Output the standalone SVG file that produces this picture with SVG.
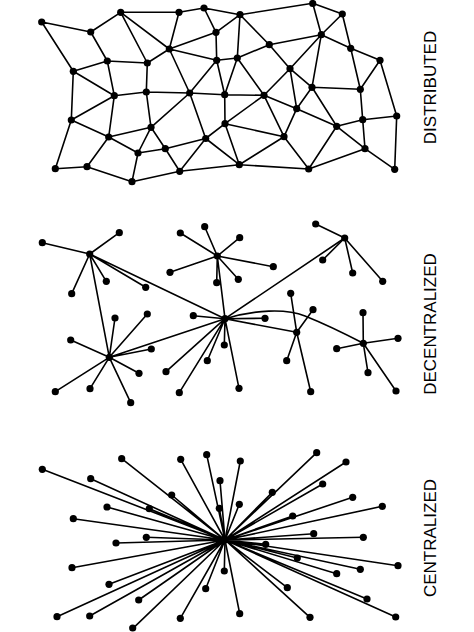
<svg xmlns="http://www.w3.org/2000/svg" width="474" height="632" viewBox="0 0 474 632">
<style>
.e{stroke:#000;stroke-width:1.6;fill:none;stroke-linecap:round}
.n{fill:#000}
.lbl{font-family:"Liberation Sans",Arial,sans-serif;font-size:17px;fill:#000;text-anchor:middle}
</style>
<defs><circle id="dot" r="3.6" class="n"/></defs>
<rect width="474" height="632" fill="#fff"/>
<g id="connectors" class="e">
<!-- distributed -->
<path d="M41.7,22L90.7,32M41.7,22L73.3,71.3M90.7,32L107.3,61M90.7,32L120.7,12.3M120.7,12.3L179,12.3M120.7,12.3L147.3,63M120.7,12.3L169.3,49M179,12.3L169.3,49M179,12.3L204,8M204,8L216,32.3M204,8L240,14.7M216,32.3L169.3,49M216,32.3L240,14.7M216,32.3L216.7,60.3M169.3,49L147.3,63M169.3,49L216.7,60.3M169.3,49L189.7,93M107.3,61L147.3,63M107.3,61L73.3,71.3M107.3,61L114.3,95.7M147.3,63L146.3,92M73.3,71.3L114.3,95.7M73.3,71.3L71.3,120M216.7,60.3L189.7,93M216.7,60.3L224.7,94.7M216.7,60.3L237.3,58M114.3,95.7L146.3,92M114.3,95.7L71.3,120M114.3,95.7L108.7,137M146.3,92L189.7,93M146.3,92L151,127.3M189.7,93L224.7,94.7M189.7,93L151,127.3M189.7,93L205.7,138.5M224.7,94.7L225,123.7M224.7,94.7L237.3,58M224.7,94.7L264,95.3M71.3,120L108.7,137M71.3,120L55.3,168.7M151,127.3L108.7,137M151,127.3L138,153M151,127.3L165.3,148.7M108.7,137L138,153M108.7,137L87,166.7M205.7,138.5L165.3,148.7M205.7,138.5L225,123.7M205.7,138.5L179.7,171.3M205.7,138.5L239.3,164.7M165.3,148.7L138,153M165.3,148.7L179.7,171.3M138,153L132,181.7M55.3,168.7L87,166.7M87,166.7L132,181.7M132,181.7L179.7,171.3M179.7,171.3L239.3,164.7"/>
<path d="M240,14.7L312.7,3.3M240,14.7L269.3,44.7M240,14.7L237.3,58M312.7,3.3L342.3,14M312.7,3.3L321.3,34.7M342.3,14L321.3,34.7M342.3,14L350.7,48.3M321.3,34.7L269.3,44.7M321.3,34.7L290,68.7M321.3,34.7L312,87.3M321.3,34.7L350.7,48.3M269.3,44.7L237.3,58M269.3,44.7L290,68.7M237.3,58L264,95.3M290,68.7L264,95.3M290,68.7L296.7,108.7M290,68.7L312,87.3M380,60.3L350.7,48.3M380,60.3L360.3,89.3M380,60.3L396.7,116M350.7,48.3L360.3,89.3M312,87.3L360.3,89.3M312,87.3L296.7,108.7M312,87.3L336.7,126.3M264,95.3L296.7,108.7M264,95.3L284,136.7M264,95.3L225,123.7M296.7,108.7L284,136.7M296.7,108.7L336.7,126.3M360.3,89.3L362.7,119.7M362.7,119.7L396.7,116M362.7,119.7L336.7,126.3M362.7,119.7L365,148.7M396.7,116L394.7,169.3M336.7,126.3L365,148.7M336.7,126.3L308.7,169M284,136.7L239.3,164.7M284,136.7L308.7,169M284,136.7L225,123.7M365,148.7L308.7,169M365,148.7L394.7,169.3M239.3,164.7L308.7,169M239.3,164.7L225,123.7"/>
<!-- decentralized -->
<path d="M89.7,254L42.3,242.7M89.7,254L119.3,232.7M89.7,254L71.7,293.7M89.7,254L106.3,281.3M89.7,254L145.7,287.3M89.7,254L225,318.7M89.7,254L109.3,357.3M109.3,357.3L225,318.7M109.3,357.3L70.7,340M109.3,357.3L115,318M109.3,357.3L147.3,314M109.3,357.3L151.3,349M109.3,357.3L139,373.3M109.3,357.3L130.7,402.7M109.3,357.3L90,388.7M109.3,357.3L55.3,391.7"/>
<path d="M217.3,256L180.3,233M217.3,256L204.7,226.7M217.3,256L170,272.3M217.3,256L216.7,282.7M217.3,256L239.7,237.7M217.3,256L273.3,266.7M217.3,256L238.3,279.3M217.3,256L225,318.7"/>
<path d="M225,318.7L193.3,315.7M225,318.7L265,318.3M225,318.7L224.3,345M225,318.7L207.3,360.7M225,318.7L166,371.7M225,318.7L179.3,392.7M225,318.7L239,388.3M225,318.7L344.7,238M225,318.7L296.7,332.3M225,318.7C255,310 285,308 305,316Q330,326 363.3,343.3"/>
<path d="M344.7,238L315.7,224M344.7,238L322.7,260M344.7,238L352.7,273M344.7,238L382.7,281.3M296.7,332.3L290.7,293.3M296.7,332.3L313,309.7M296.7,332.3L286.7,360.7M296.7,332.3L310.7,391.7M363.3,343.3L363,312.7M363.3,343.3L398,338.3M363.3,343.3L336.7,348.7M363.3,343.3L368,372.7M363.3,343.3L396,391"/>
<!-- centralized -->
<path d="M225,540L42.3,469.3M225,540L121.7,458.7M225,540L180.7,459.3M225,540L206.7,454.7M225,540L220,480.7M225,540L90.7,478.7M225,540L171.7,495M225,540L149.3,508.7M225,540L107,507M225,540L73.3,518.7M225,540L219.3,508.3M225,540L146.3,537.3M225,540L116,543M225,540L72,567.7M225,540L224.3,571M225,540L109,584.3M225,540L205.7,588.7M225,540L138.7,600M225,540L57,616.7M225,540L89.7,616M225,540L180.3,618.3M225,540L132.7,628.7"/>
<path d="M225,540L240.3,461M225,540L316.7,452.7M225,540L346,462M225,540L272.3,492.3M225,540L322.7,484M225,540L239.3,504.3M225,540L292.7,516M225,540L352.7,497.3M225,540L382.3,506.3M225,540L313.7,533.7M225,540L363.3,537.3M225,540L265.7,544.3M225,540L297.3,558M225,540L336.7,573.7M225,540L360.3,569.3M225,540L398,565.7M225,540L287.3,587.7M225,540L367,599M225,540L395.7,617M225,540L239.7,613.7M225,540L310,617.3"/>
</g>
<g id="distributed">
<g id="dA"><use href="#dot" x="41.7" y="22"/></g>
<g id="dB"><use href="#dot" x="90.7" y="32"/></g>
<g id="dC"><use href="#dot" x="120.7" y="12.3"/></g>
<g id="dD"><use href="#dot" x="179" y="12.3"/></g>
<g id="dE"><use href="#dot" x="204" y="8"/></g>
<g id="dF"><use href="#dot" x="216" y="32.3"/></g>
<g id="dG"><use href="#dot" x="169.3" y="49"/></g>
<g id="dH"><use href="#dot" x="107.3" y="61"/></g>
<g id="dI"><use href="#dot" x="147.3" y="63"/></g>
<g id="dJ"><use href="#dot" x="73.3" y="71.3"/></g>
<g id="dK"><use href="#dot" x="216.7" y="60.3"/></g>
<g id="dL"><use href="#dot" x="114.3" y="95.7"/></g>
<g id="dM"><use href="#dot" x="146.3" y="92"/></g>
<g id="dN"><use href="#dot" x="189.7" y="93"/></g>
<g id="dO"><use href="#dot" x="224.7" y="94.7"/></g>
<g id="dP"><use href="#dot" x="71.3" y="120"/></g>
<g id="dQ"><use href="#dot" x="151" y="127.3"/></g>
<g id="dR"><use href="#dot" x="225" y="123.7"/></g>
<g id="dS"><use href="#dot" x="108.7" y="137"/></g>
<g id="dT"><use href="#dot" x="205.7" y="138.5"/></g>
<g id="dU"><use href="#dot" x="165.3" y="148.7"/></g>
<g id="dV"><use href="#dot" x="138" y="153"/></g>
<g id="dW"><use href="#dot" x="55.3" y="168.7"/></g>
<g id="dX"><use href="#dot" x="87" y="166.7"/></g>
<g id="dY"><use href="#dot" x="179.7" y="171.3"/></g>
<g id="dZ"><use href="#dot" x="132" y="181.7"/></g>
<g id="da"><use href="#dot" x="312.7" y="3.5"/></g>
<g id="db"><use href="#dot" x="240" y="14.7"/></g>
<g id="dc"><use href="#dot" x="342.3" y="14"/></g>
<g id="dd"><use href="#dot" x="321.3" y="34.7"/></g>
<g id="de"><use href="#dot" x="269.3" y="44.7"/></g>
<g id="df"><use href="#dot" x="350.7" y="48.3"/></g>
<g id="dg"><use href="#dot" x="237.3" y="58"/></g>
<g id="dh"><use href="#dot" x="290" y="68.7"/></g>
<g id="di"><use href="#dot" x="380" y="60.3"/></g>
<g id="dk"><use href="#dot" x="264" y="95.3"/></g>
<g id="dl"><use href="#dot" x="312" y="87.3"/></g>
<g id="dm"><use href="#dot" x="360.3" y="89.3"/></g>
<g id="dn"><use href="#dot" x="296.7" y="108.7"/></g>
<g id="dp"><use href="#dot" x="362.7" y="119.7"/></g>
<g id="dq"><use href="#dot" x="396.7" y="116"/></g>
<g id="dr"><use href="#dot" x="336.7" y="126.3"/></g>
<g id="ds"><use href="#dot" x="284" y="136.7"/></g>
<g id="dt"><use href="#dot" x="365" y="148.7"/></g>
<g id="du"><use href="#dot" x="239.3" y="164.7"/></g>
<g id="dv"><use href="#dot" x="308.7" y="169"/></g>
<g id="dw"><use href="#dot" x="394.7" y="169.3"/></g>
</g>
<g id="decentralized">
<g id="h1"><use href="#dot" x="89.7" y="254"/></g>
<g id="h1-1"><use href="#dot" x="42.3" y="242.7"/></g>
<g id="h1-2"><use href="#dot" x="119.3" y="232.7"/></g>
<g id="h1-3"><use href="#dot" x="71.7" y="293.7"/></g>
<g id="h1-4"><use href="#dot" x="106.3" y="281.3"/></g>
<g id="h1-5"><use href="#dot" x="145.7" y="287.3"/></g>
<g id="h2"><use href="#dot" x="109.3" y="357.3"/></g>
<g id="h2-1"><use href="#dot" x="70.7" y="340"/></g>
<g id="h2-2"><use href="#dot" x="115" y="318"/></g>
<g id="h2-3"><use href="#dot" x="147.3" y="314"/></g>
<g id="h2-4"><use href="#dot" x="151.3" y="349"/></g>
<g id="h2-5"><use href="#dot" x="139" y="373.3"/></g>
<g id="h2-6"><use href="#dot" x="130.7" y="402.7"/></g>
<g id="h2-7"><use href="#dot" x="90" y="388.7"/></g>
<g id="h2-8"><use href="#dot" x="55.3" y="391.7"/></g>
<g id="h3"><use href="#dot" x="217.3" y="256"/></g>
<g id="h3-1"><use href="#dot" x="180.3" y="233"/></g>
<g id="h3-2"><use href="#dot" x="204.7" y="226.7"/></g>
<g id="h3-3"><use href="#dot" x="170" y="272.3"/></g>
<g id="h3-4"><use href="#dot" x="216.7" y="282.7"/></g>
<g id="h3-5"><use href="#dot" x="239.7" y="237.7"/></g>
<g id="h3-6"><use href="#dot" x="273.3" y="266.7"/></g>
<g id="h3-7"><use href="#dot" x="238.3" y="279.3"/></g>
<g id="hc"><use href="#dot" x="225" y="318.7"/></g>
<g id="hc-1"><use href="#dot" x="193.3" y="315.7"/></g>
<g id="hc-2"><use href="#dot" x="265" y="318.3"/></g>
<g id="hc-3"><use href="#dot" x="224.3" y="345"/></g>
<g id="hc-4"><use href="#dot" x="207.3" y="360.7"/></g>
<g id="hc-5"><use href="#dot" x="166" y="371.7"/></g>
<g id="hc-6"><use href="#dot" x="179.3" y="392.7"/></g>
<g id="hc-7"><use href="#dot" x="239" y="388.3"/></g>
<g id="h4"><use href="#dot" x="344.7" y="238"/></g>
<g id="h4-1"><use href="#dot" x="315.7" y="224"/></g>
<g id="h4-2"><use href="#dot" x="322.7" y="260"/></g>
<g id="h4-3"><use href="#dot" x="352.7" y="273"/></g>
<g id="h4-4"><use href="#dot" x="382.7" y="281.3"/></g>
<g id="h5"><use href="#dot" x="296.7" y="332.3"/></g>
<g id="h5-1"><use href="#dot" x="290.7" y="293.3"/></g>
<g id="h5-2"><use href="#dot" x="313" y="309.7"/></g>
<g id="h5-3"><use href="#dot" x="286.7" y="360.7"/></g>
<g id="h5-4"><use href="#dot" x="310.7" y="391.7"/></g>
<g id="h6"><use href="#dot" x="363.3" y="343.3"/></g>
<g id="h6-1"><use href="#dot" x="363" y="312.7"/></g>
<g id="h6-2"><use href="#dot" x="398" y="338.3"/></g>
<g id="h6-3"><use href="#dot" x="336.7" y="348.7"/></g>
<g id="h6-4"><use href="#dot" x="368" y="372.7"/></g>
<g id="h6-5"><use href="#dot" x="396" y="391"/></g>
</g>
<g id="centralized">
<g id="c0"><use href="#dot" x="225" y="540"/></g>
<g id="c1"><use href="#dot" x="42.3" y="469.3"/></g>
<g id="c2"><use href="#dot" x="121.7" y="458.7"/></g>
<g id="c3"><use href="#dot" x="180.7" y="459.3"/></g>
<g id="c4"><use href="#dot" x="206.7" y="454.7"/></g>
<g id="c5"><use href="#dot" x="220" y="480.7"/></g>
<g id="c6"><use href="#dot" x="90.7" y="478.7"/></g>
<g id="c7"><use href="#dot" x="171.7" y="495"/></g>
<g id="c8"><use href="#dot" x="149.3" y="508.7"/></g>
<g id="c9"><use href="#dot" x="107" y="507"/></g>
<g id="c10"><use href="#dot" x="73.3" y="518.7"/></g>
<g id="c11"><use href="#dot" x="219.3" y="508.3"/></g>
<g id="c12"><use href="#dot" x="146.3" y="537.3"/></g>
<g id="c13"><use href="#dot" x="116" y="543"/></g>
<g id="c14"><use href="#dot" x="72" y="567.7"/></g>
<g id="c15"><use href="#dot" x="224.3" y="571"/></g>
<g id="c16"><use href="#dot" x="109" y="584.3"/></g>
<g id="c17"><use href="#dot" x="205.7" y="588.7"/></g>
<g id="c18"><use href="#dot" x="138.7" y="600"/></g>
<g id="c19"><use href="#dot" x="57" y="616.7"/></g>
<g id="c20"><use href="#dot" x="89.7" y="616"/></g>
<g id="c21"><use href="#dot" x="180.3" y="618.3"/></g>
<g id="c22"><use href="#dot" x="132.7" y="628"/></g>
<g id="c23"><use href="#dot" x="240.3" y="461"/></g>
<g id="c24"><use href="#dot" x="316.7" y="452.7"/></g>
<g id="c25"><use href="#dot" x="346" y="462"/></g>
<g id="c26"><use href="#dot" x="272.3" y="492.3"/></g>
<g id="c27"><use href="#dot" x="322.7" y="484"/></g>
<g id="c28"><use href="#dot" x="239.3" y="504.3"/></g>
<g id="c29"><use href="#dot" x="292.7" y="516"/></g>
<g id="c30"><use href="#dot" x="352.7" y="497.3"/></g>
<g id="c31"><use href="#dot" x="382.3" y="506.3"/></g>
<g id="c32"><use href="#dot" x="313.7" y="533.7"/></g>
<g id="c33"><use href="#dot" x="363.3" y="537.3"/></g>
<g id="c34"><use href="#dot" x="265.7" y="544.3"/></g>
<g id="c35"><use href="#dot" x="297.3" y="558"/></g>
<g id="c36"><use href="#dot" x="336.7" y="573.7"/></g>
<g id="c37"><use href="#dot" x="360.3" y="569.3"/></g>
<g id="c38"><use href="#dot" x="398" y="565.7"/></g>
<g id="c39"><use href="#dot" x="287.3" y="587.7"/></g>
<g id="c40"><use href="#dot" x="367" y="599"/></g>
<g id="c41"><use href="#dot" x="395.7" y="617"/></g>
<g id="c42"><use href="#dot" x="239.7" y="613.7"/></g>
<g id="c43"><use href="#dot" x="310" y="617.3"/></g>
</g>
<g id="labels">
<text class="lbl" transform="translate(436,87.5) rotate(-90)">DISTRIBUTED</text>
<text class="lbl" transform="translate(436,324) rotate(-90)">DECENTRALIZED</text>
<text class="lbl" transform="translate(436,538) rotate(-90)">CENTRALIZED</text>
</g>
</svg>
